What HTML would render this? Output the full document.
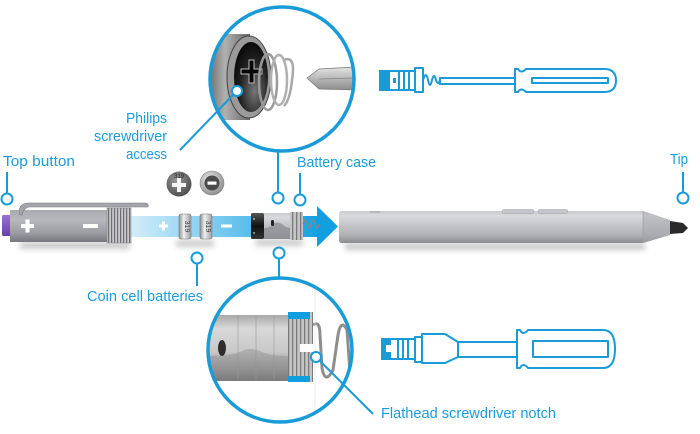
<!DOCTYPE html>
<html><head><meta charset="utf-8"><style>
html,body{margin:0;padding:0;background:#fff;}
svg{display:block;}
text{font-family:"Liberation Sans",sans-serif;fill:#1b9cdb;}
</style></head><body>
<svg width="700" height="434" viewBox="0 0 700 434" xmlns="http://www.w3.org/2000/svg">
<defs>
 <linearGradient id="silver" x1="0" y1="0" x2="0" y2="1">
  <stop offset="0" stop-color="#c8cacd"/>
  <stop offset="0.15" stop-color="#d8dadc"/>
  <stop offset="0.45" stop-color="#c3c5c9"/>
  <stop offset="0.75" stop-color="#b0b2b6"/>
  <stop offset="1" stop-color="#8a8c90"/>
 </linearGradient>
 <linearGradient id="cap" x1="0" y1="0" x2="0" y2="1">
  <stop offset="0" stop-color="#a9abb1"/>
  <stop offset="0.3" stop-color="#b6b8bd"/>
  <stop offset="0.7" stop-color="#9c9ea4"/>
  <stop offset="1" stop-color="#75777d"/>
 </linearGradient>
 <linearGradient id="purple" x1="0" y1="0" x2="0" y2="1">
  <stop offset="0" stop-color="#9a6fd6"/>
  <stop offset="1" stop-color="#6a3fa8"/>
 </linearGradient>
 <linearGradient id="band" x1="0" x2="1">
  <stop offset="0" stop-color="#d3edf9"/>
  <stop offset="0.45" stop-color="#7ccbef"/>
  <stop offset="1" stop-color="#129fdf"/>
 </linearGradient>
 <linearGradient id="dark" x1="0" y1="0" x2="0" y2="1">
  <stop offset="0" stop-color="#555"/>
  <stop offset="0.5" stop-color="#111"/>
  <stop offset="1" stop-color="#333"/>
 </linearGradient>
 <linearGradient id="coinside" x1="0" x2="1">
  <stop offset="0" stop-color="#8d8f93"/>
  <stop offset="0.4" stop-color="#f0f0f0"/>
  <stop offset="1" stop-color="#9a9ca0"/>
 </linearGradient>
 <radialGradient id="coin1" cx="0.4" cy="0.35" r="0.7">
  <stop offset="0" stop-color="#9a9a9a"/>
  <stop offset="1" stop-color="#4a4a4a"/>
 </radialGradient>
 <radialGradient id="coin2" cx="0.4" cy="0.35" r="0.7">
  <stop offset="0" stop-color="#e8e8e8"/>
  <stop offset="1" stop-color="#8a8a8a"/>
 </radialGradient>
 <linearGradient id="bigcyl" x1="0" y1="0" x2="0" y2="1">
  <stop offset="0" stop-color="#a8a8a8"/>
  <stop offset="0.2" stop-color="#d8d8d8"/>
  <stop offset="0.55" stop-color="#c8c8c8"/>
  <stop offset="0.8" stop-color="#9a9a9a"/>
  <stop offset="1" stop-color="#6a6a6a"/>
 </linearGradient>
 <linearGradient id="rimg" x1="0" x2="1">
  <stop offset="0" stop-color="#4a4a4a"/>
  <stop offset="0.5" stop-color="#b0b0b0"/>
  <stop offset="1" stop-color="#666"/>
 </linearGradient>
 <radialGradient id="holeg" cx="0.6" cy="0.7" r="0.7">
  <stop offset="0" stop-color="#777"/>
  <stop offset="0.6" stop-color="#222"/>
  <stop offset="1" stop-color="#0a0a0a"/>
 </radialGradient>
 <linearGradient id="tipg" x1="0" y1="0" x2="0" y2="1">
  <stop offset="0" stop-color="#e4e4e4"/>
  <stop offset="1" stop-color="#8c8c8c"/>
 </linearGradient>
 <pattern id="thread" width="3" height="10" patternUnits="userSpaceOnUse">
  <rect width="3" height="10" fill="#c9c9cc"/>
  <rect width="1.2" height="10" fill="#6d6d72"/>
 </pattern>
 <pattern id="thread2" width="4" height="10" patternUnits="userSpaceOnUse">
  <rect width="4" height="10" fill="#c4c4c4"/>
  <rect width="1.3" height="10" fill="#7a7a7a"/>
 </pattern>
 <filter id="blur" x="-20%" y="-100%" width="140%" height="300%"><feGaussianBlur stdDeviation="3"/></filter>
 <clipPath id="ctop"><circle cx="282" cy="79" r="71"/></clipPath>
 <clipPath id="cbot"><circle cx="280" cy="350" r="71"/></clipPath>
</defs>

<rect x="20" y="242" width="110" height="7" fill="#9a9a9a" opacity="0.55" filter="url(#blur)"/>
<rect x="176" y="240" width="38" height="7" fill="#9a9a9a" opacity="0.5" filter="url(#blur)"/>
<rect x="255" y="239" width="48" height="7" fill="#9a9a9a" opacity="0.5" filter="url(#blur)"/>
<rect x="345" y="243" width="300" height="7" fill="#9a9a9a" opacity="0.55" filter="url(#blur)"/>

<rect x="131" y="216" width="190" height="21" fill="url(#band)"/>
<polygon points="317,206 338,226.5 317,247" fill="#129fdf"/>
<rect x="159" y="224.5" width="9" height="3" fill="#fff"/>
<rect x="162" y="221.5" width="3" height="9" fill="#fff"/>
<rect x="221" y="224.5" width="11" height="3" fill="#fff"/>

<rect x="2" y="215" width="10" height="21" rx="1.5" fill="url(#purple)"/>
<path d="M10,210 H107 V242 H10 Z" fill="url(#cap)"/>
<rect x="107" y="208" width="24" height="35" fill="url(#thread)"/>
<rect x="107" y="208" width="24" height="35" fill="none" stroke="#8a8a90" stroke-width="0.6"/>
<path d="M20,215 Q17,204 28,203 H145 Q149,203 148,207 H30 Q24,207 22,215 Z" fill="#a3a5aa" stroke="#7a7c82" stroke-width="0.6"/>
<rect x="21" y="224" width="13" height="4" fill="#fff"/>
<rect x="25.5" y="219.5" width="4" height="13" fill="#fff"/>
<rect x="83" y="224" width="15" height="4" fill="#fff"/>

<rect x="179" y="214" width="12" height="25" rx="2" fill="url(#coinside)" stroke="#777" stroke-width="0.6"/>
<rect x="200" y="214" width="12" height="25" rx="2" fill="url(#coinside)" stroke="#777" stroke-width="0.6"/>
<text x="185" y="226.5" font-size="7" style="fill:#444" text-anchor="middle" transform="rotate(90 185 226.5)">319</text>
<text x="206" y="226.5" font-size="7" style="fill:#444" text-anchor="middle" transform="rotate(90 206 226.5)">319</text>

<circle cx="179" cy="184" r="12.5" fill="url(#coin1)"/>
<rect x="172" y="183" width="14" height="4" fill="#f4f4f4"/>
<rect x="177" y="178" width="4" height="14" fill="#f4f4f4"/>
<text x="179" y="178" font-size="6" style="fill:#222" text-anchor="middle">319</text>
<circle cx="212" cy="183" r="12" fill="url(#coin2)" stroke="#888" stroke-width="0.6"/>
<circle cx="212" cy="183" r="7.5" fill="#4a4a4a"/>
<rect x="207.5" y="181.5" width="9" height="3.2" fill="#fff"/>

<rect x="251" y="213" width="13" height="26" rx="1.5" fill="url(#dark)"/>
<rect x="264" y="213" width="26" height="26" fill="url(#silver)"/>
<path d="M264,228 Q270,228 273,224 Q276,221 282,224 Q286,228 290,228 V239 H264 Z" fill="#8e9095" opacity="0.8"/>
<rect x="271" y="220" width="3" height="6" rx="1.5" fill="#222"/>
<rect x="290" y="212" width="13" height="28" fill="url(#thread2)"/>
<path d="M303,224 q2,-8 4,0 q2,8 4,0 q2,-8 4,0 q2,8 4,0" fill="none" stroke="#888" stroke-width="1.3"/>
<circle cx="254" cy="219" r="0.9" fill="#ccc"/><circle cx="254" cy="233" r="0.9" fill="#ccc"/>

<path d="M342,211 H643 L670,220 V235 L643,243 H342 Q339,243 339,240 V214 Q339,211 342,211 Z" fill="url(#silver)"/>
<path d="M643,211 L670,220 V235 L643,243 Z" fill="#a4a6ab" opacity="0.5"/>
<line x1="643" y1="211" x2="643" y2="243" stroke="#9a9ca0" stroke-width="0.7"/>
<path d="M670,221 L683,223 L688,228 L683,233 L670,234 Z" fill="#2a2a2a"/>
<rect x="502" y="209.5" width="32" height="4" rx="2" fill="#c3c5c9" stroke="#a0a2a6" stroke-width="0.5"/>
<rect x="538" y="209.5" width="30" height="4" rx="2" fill="#c3c5c9" stroke="#a0a2a6" stroke-width="0.5"/>
<line x1="370" y1="212" x2="380" y2="212" stroke="#9ea0a4" stroke-width="1"/>

<g clip-path="url(#ctop)">
 <rect x="200" y="34" width="50" height="86" fill="url(#rimg)"/>
 <ellipse cx="249" cy="77" rx="22" ry="41" fill="#9a9a9a" stroke="#444" stroke-width="1"/>
 <ellipse cx="251" cy="77" rx="17" ry="35" fill="url(#holeg)"/>
 <path d="M249,60 h5 v9 h8 v5 h-8 v9 h-5 v-9 h-8 v-5 h8 Z" fill="#050505" stroke="#bbb" stroke-width="1"/>
 <ellipse cx="268" cy="82" rx="9" ry="28" fill="none" stroke="#9a9a9a" stroke-width="2.5"/>
 <ellipse cx="279" cy="80" rx="8" ry="25" fill="none" stroke="#b0b0b0" stroke-width="2.5"/>
 <path d="M284,60 Q296,55 292,80 Q290,100 284,106" fill="none" stroke="#a8a8a8" stroke-width="2.5"/>
 <polygon points="307,78 319,69 356,67 356,90 319,89" fill="url(#tipg)" stroke="#777" stroke-width="0.7"/>
 <line x1="319" y1="79" x2="356" y2="78" stroke="#888" stroke-width="0.8"/>
</g>
<circle cx="282" cy="79" r="72" fill="none" stroke="#199bd8" stroke-width="3.5"/>

<g clip-path="url(#cbot)">
 <rect x="200" y="315" width="89" height="66" fill="url(#bigcyl)"/>
 <line x1="238" y1="316" x2="238" y2="380" stroke="#999" stroke-width="0.6"/>
 <line x1="256" y1="316" x2="256" y2="380" stroke="#999" stroke-width="0.6"/>
 <line x1="274" y1="316" x2="274" y2="380" stroke="#999" stroke-width="0.6"/>
 <path d="M200,356 Q230,356 240,352 Q250,346 262,352 Q272,356 289,356 V381 H200 Z" fill="#8f8f8f" opacity="0.45"/>
 <ellipse cx="222" cy="348" rx="4" ry="8" fill="#2c2c2c"/>
 <rect x="288" y="312" width="25" height="70" fill="url(#thread2)"/>
 <rect x="288" y="312" width="22" height="7" fill="#0f9ee0"/>
 <rect x="288" y="376" width="22" height="6" fill="#0f9ee0"/>
 <rect x="300" y="344" width="13" height="8" fill="#fff"/>
 <path d="M313,325 Q320,320 320,335 L322,368 Q325,385 333,370 L338,335 Q341,318 347,330 L350,372" fill="none" stroke="#8e8e8e" stroke-width="3"/>
 <line x1="315" y1="290" x2="315" y2="420" stroke="#d8e8f0" stroke-width="0.8"/>
</g>
<circle cx="280" cy="350" r="72" fill="none" stroke="#199bd8" stroke-width="3.5"/>

<g stroke="#199bd8" stroke-width="2" fill="#fff">
 <line x1="7" y1="172" x2="7" y2="193"/>
 <circle cx="7" cy="199" r="5.5"/>
 <line x1="278" y1="152" x2="278" y2="192"/>
 <circle cx="278" cy="198" r="5.5"/>
 <line x1="300" y1="173" x2="300" y2="194"/>
 <circle cx="300" cy="200" r="5.5"/>
 <line x1="683" y1="172" x2="683" y2="192"/>
 <circle cx="683" cy="198" r="5.5"/>
 <line x1="197" y1="264" x2="197" y2="286"/>
 <circle cx="197" cy="258" r="5.5"/>
 <line x1="279" y1="259" x2="279" y2="277"/>
 <circle cx="279" cy="253" r="5.5"/>
 <line x1="180" y1="150" x2="233" y2="95"/>
 <circle cx="237" cy="91" r="5"/>
 <line x1="320" y1="361" x2="373" y2="414"/>
 <circle cx="316" cy="357" r="5"/>
</g>

<text x="3" y="166" font-size="15" textLength="72" lengthAdjust="spacingAndGlyphs">Top button</text>
<text x="126" y="123" font-size="15" textLength="41" lengthAdjust="spacingAndGlyphs">Philips</text>
<text x="94" y="141" font-size="15" textLength="73" lengthAdjust="spacingAndGlyphs">screwdriver</text>
<text x="126" y="159" font-size="15" textLength="41" lengthAdjust="spacingAndGlyphs">access</text>
<text x="297" y="167" font-size="15" textLength="79" lengthAdjust="spacingAndGlyphs">Battery case</text>
<text x="670" y="164" font-size="15" textLength="18" lengthAdjust="spacingAndGlyphs">Tip</text>
<text x="87" y="301" font-size="15" textLength="116" lengthAdjust="spacingAndGlyphs">Coin cell batteries</text>
<text x="381" y="418" font-size="15" textLength="175" lengthAdjust="spacingAndGlyphs">Flathead screwdriver notch</text>

<g stroke="#199bd8" stroke-width="2" fill="#fff" stroke-linejoin="round">
 <path d="M515,69 H518 Q521,74 526,69 H604 Q616,69 616,80.5 Q616,92 604,92 H526 Q521,87 518,92 H515 Z"/>
 <rect x="532" y="78" width="76" height="5"/>
 <rect x="440" y="78" width="75" height="6"/>
 <path d="M423,80 q3,-10 5,0 q2,10 4,0 q2,-8 4,0 q2,6 4,0" fill="none"/>
 <rect x="415" y="68" width="8" height="24"/>
 <rect x="389" y="71" width="26" height="19"/>
 <line x1="399" y1="71" x2="399" y2="90"/>
 <line x1="404" y1="71" x2="404" y2="90"/>
 <line x1="409" y1="71" x2="409" y2="90"/>
</g>
<rect x="379" y="70" width="10" height="21" fill="#199bd8"/>
<rect x="393" y="78" width="3" height="5" fill="#199bd8"/>

<g stroke="#199bd8" stroke-width="2" fill="#fff" stroke-linejoin="round">
 <path d="M517,330 H520 Q523,336 528,330 H603 Q615,330 615,349 Q615,368 603,368 H528 Q523,362 520,368 H517 Z"/>
 <rect x="533" y="341" width="75" height="16"/>
 <rect x="458" y="342" width="59" height="15"/>
 <path d="M422,334 H445 L458,342 V357 L445,363 H422 Z"/>
 <rect x="415" y="337" width="7" height="25"/>
 <rect x="390" y="339" width="25" height="20"/>
 <line x1="398" y1="339" x2="398" y2="359"/>
 <line x1="403" y1="339" x2="403" y2="359"/>
 <line x1="408" y1="339" x2="408" y2="359"/>
</g>
<rect x="381" y="338" width="10" height="22" fill="#199bd8"/>
<rect x="386" y="345" width="5" height="7" fill="#fff"/>
</svg>
</body></html>
